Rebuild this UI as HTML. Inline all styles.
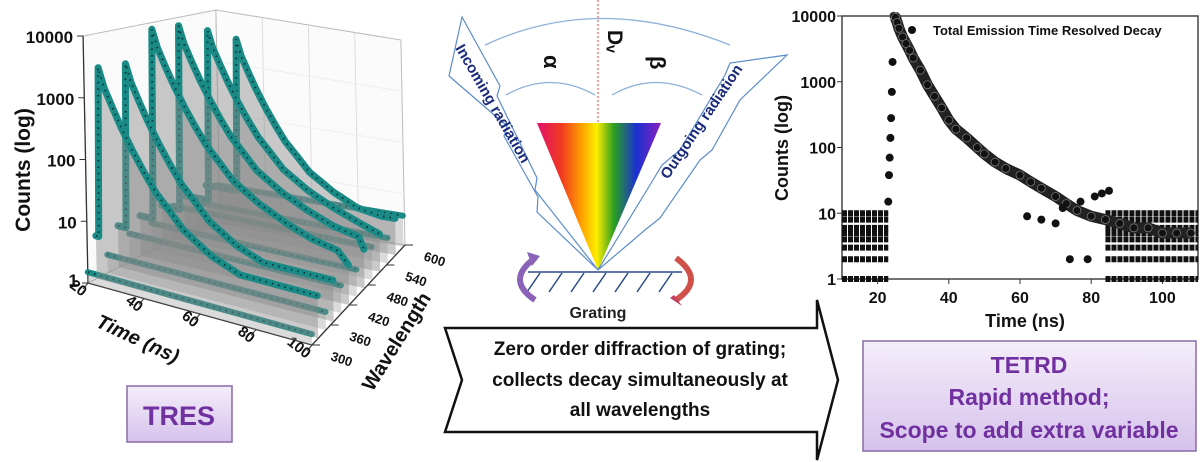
<!DOCTYPE html>
<html><head><meta charset="utf-8"><style>
html,body{margin:0;padding:0;background:#fff}
svg{display:block}
text{font-family:"Liberation Sans",sans-serif}
</style></head><body>
<svg id="fig" width="1200" height="462" viewBox="0 0 1200 462" xmlns="http://www.w3.org/2000/svg">
<defs>
<linearGradient id="rainbow" x1="0" x2="1" y1="0" y2="0">
<stop offset="0" stop-color="#e0106a"/><stop offset="0.2" stop-color="#f03a20"/><stop offset="0.35" stop-color="#ff9a00"/><stop offset="0.48" stop-color="#ffee00"/><stop offset="0.62" stop-color="#2aa020"/><stop offset="0.8" stop-color="#1a30d0"/><stop offset="1" stop-color="#8a20c0"/>
</linearGradient>
<linearGradient id="boxg" x1="0" x2="0" y1="0" y2="1"><stop offset="0" stop-color="#f4eefa"/><stop offset="1" stop-color="#d6c2ec"/></linearGradient>
</defs>
<g id="tres3d"></g>
<g id="diagram">
<line x1="598" y1="0" x2="598" y2="123" stroke="#e04040" stroke-dasharray="2,2"/>
<path d="M485,45 Q598,-8 730,45" fill="none" stroke="#8fb0d8" stroke-width="1.3"/>
<path d="M506,95 Q550,70 595,95" fill="none" stroke="#8fb0d8" stroke-width="1.3"/>
<path d="M612,95 Q655,70 702,95" fill="none" stroke="#8fb0d8" stroke-width="1.3"/>
<text x="608" y="30" font-size="21" font-weight="bold" transform="rotate(90 608 30)" fill="#111">Dᵥ</text>
<text x="544" y="55" font-size="22" font-weight="bold" transform="rotate(90 544 55)" fill="#111">α</text>
<text x="650" y="56" font-size="22" font-weight="bold" transform="rotate(90 650 56)" fill="#111">β</text>
<polygon points="537,123 661,123 598,270" fill="url(#rainbow)"/>
<polygon points="462,17 500,86 497,96 537,178 535,190 598,270 537,212 538,197 504,136 507,126 449,76" fill="none" stroke="#5b8ccc" stroke-width="1.2"/>
<polygon points="787,55 730,63 725,75 680,150 662,165 650,185 598,270 645,230 660,218 700,160 712,150 740,100" fill="none" stroke="#5b8ccc" stroke-width="1.2"/>
<text x="455" y="48" font-size="15" font-weight="bold" fill="#1a2a7a" transform="rotate(60 455 48)">Incoming radiation</text>
<text x="668" y="180" font-size="15" font-weight="bold" fill="#1a2a7a" transform="rotate(-56 668 180)">Outgoing radiation</text>
<line x1="528" y1="272" x2="682" y2="272" stroke="#2a4a8a" stroke-width="1.5"/>
<g stroke="#2a4a8a" stroke-width="1.5">
<line x1="540" y1="273" x2="527" y2="292"/><line x1="562" y1="273" x2="549" y2="292"/><line x1="584" y1="273" x2="571" y2="292"/><line x1="606" y1="273" x2="593" y2="292"/><line x1="628" y1="273" x2="615" y2="292"/><line x1="650" y1="273" x2="637" y2="292"/><line x1="672" y1="273" x2="659" y2="292"/>
</g>
<path d="M535,258 Q505,280 535,300" fill="none" stroke="#8a62b8" stroke-width="6"/>
<polygon points="527,252 540,256 532,266" fill="#8a62b8"/>
<path d="M676,258 Q706,280 676,300" fill="none" stroke="#d0504a" stroke-width="6"/>
<polygon points="670,298 682,306 674,295" fill="#c04060"/>
<text x="598" y="318" font-size="16" font-weight="bold" text-anchor="middle" fill="#222">Grating</text>
</g>
<g>
<polygon points="445,328 817,328 817,300 838,380 817,460 817,432 445,432 462,380" fill="#fff" stroke="#111" stroke-width="2.5"/>
<text x="640" y="355" font-size="19" font-weight="bold" text-anchor="middle" fill="#111">Zero order diffraction of grating;</text>
<text x="640" y="386" font-size="19" font-weight="bold" text-anchor="middle" fill="#111">collects decay simultaneously at</text>
<text x="640" y="416" font-size="19" font-weight="bold" text-anchor="middle" fill="#111">all wavelengths</text>
</g>
<g>
<rect x="127" y="386" width="105" height="56" fill="url(#boxg)" stroke="#8a6aa8" stroke-width="1.5"/>
<text x="179" y="425" font-size="27" font-weight="bold" text-anchor="middle" fill="#7030a0">TRES</text>
</g>
<g>
<rect x="863" y="341" width="333" height="110" fill="url(#boxg)" stroke="#8a6aa8" stroke-width="1.5"/>
<text x="1029" y="373" font-size="23" font-weight="bold" text-anchor="middle" fill="#7030a0">TETRD</text>
<text x="1029" y="405" font-size="23" font-weight="bold" text-anchor="middle" fill="#7030a0">Rapid method;</text>
<text x="1029" y="438" font-size="23" font-weight="bold" text-anchor="middle" fill="#7030a0">Scope to add extra variable</text>
</g>
<g id="tetrd"></g>
</svg>
<script>
// ---- TETRD chart data ----
const decayTimes = [24.5,25,25.5,26,27,28,29,30,32,34,36,38,40,42,45,48,50,53,56,60,63,66,70,73,76,80,84,88,92,96,100,104,108];
const decayCounts = [10000,9500,8000,6500,4800,3800,3000,2300,1500,900,600,400,260,190,140,100,80,60,48,38,30,24,18,14,11,9,8,7,6,6,5,5,5];
const riseTimes = [23,23.2,23.4,23.6,23.8,24,24.2];
const riseCounts = [15,38,70,140,280,700,2000];
const tailScatterTimes = [62,66,70,72,74,77,79,81,83,85];
const tailScatterCounts = [9,8,7,12,2,15,2,18,20,22];
const bgLevels = [1,2,3,4,5,6,8,10];
const tetrdXTicks = [20,40,60,80,100];
const tetrdYTicks = [1,10,100,1000,10000];
// ---- TRES 3D data ----
const tresWavelengths = [570,520,470,420,370,320];
const tresPeaks = [4000,7000,10000,10000,3000,3000];
const tresPeakTime = [34,31,28,26,24,22];
const decayShapeTimes = [0,2,5,8,12,16,20,25,30,40,50,60,70];
const decayShapeFrac = [1,0.5,0.25,0.13,0.06,0.03,0.016,0.009,0.005,0.0025,0.0015,0.001,0.0008];
const tresBaseWavelengths = [595,545,495,445,395,345,300];
const tresBaseCounts = [4,3,4,3,3,2,1.5];
const tresTimeTicks = [20,40,60,80,100];
const tresWlTicks = [300,360,420,480,540,600];
const tresCountTicks = [1,10,100,1000,10000];

const NS='http://www.w3.org/2000/svg';
function mk(tag,attrs,parent){const e=document.createElementNS(NS,tag);for(const k in attrs)e.setAttribute(k,attrs[k]);parent.appendChild(e);return e;}

// TETRD
const tg=document.getElementById('tetrd');
const X0=842,X1=1198,Y0=279,Y1=16;
const xs=t=>X0+(t-10)/(110-10)*(X1-X0);
const ys=c=>Y0-Math.log10(c)/4*(Y0-Y1);
let fr=mk('rect',{x:X0,y:Y1,width:X1-X0,height:Y0-Y1,fill:'#fff',stroke:'#444','stroke-width':1.5},tg);


tetrdXTicks.forEach(v=>{
  mk('line',{x1:xs(v),y1:Y0,x2:xs(v),y2:Y0+5,stroke:'#333'},tg);
  const t=mk('text',{x:xs(v),y:Y0+24,'font-size':16,'font-weight':'bold','text-anchor':'middle',fill:'#111'},tg);t.textContent=v;
  
  
});
tetrdYTicks.forEach(v=>{
  mk('line',{x1:X0-5,y1:ys(v),x2:X0,y2:ys(v),stroke:'#333'},tg);
  const t=mk('text',{x:X0-6,y:ys(v)+6,'font-size':16,'font-weight':'bold','text-anchor':'end',fill:'#111'},tg);t.textContent=v;
  
  
});
let xt=mk('text',{x:1025,y:327,'font-size':18,'font-weight':'bold','text-anchor':'middle',fill:'#111'},tg);xt.textContent='Time (ns)';


let yt=mk('text',{x:788,y:148,'font-size':18,'font-weight':'bold','text-anchor':'middle',fill:'#111',transform:'rotate(-90 788 148)'},tg);yt.textContent='Counts (log)';


bgLevels.forEach(l=>{
  [[10,23],[84,110]].forEach(([a,b])=>{
    const r=mk('line',{x1:xs(a),y1:ys(l),x2:xs(b),y2:ys(l),stroke:'#111','stroke-width':6,'stroke-dasharray':'5,1'},tg);
    
    
  });
});
let pts=decayTimes.map((t,i)=>xs(t)+','+ys(decayCounts[i])).join(' ');
let band=mk('polyline',{points:pts,fill:'none',stroke:'#222','stroke-width':11,'stroke-linejoin':'round'},tg);


riseTimes.forEach((t,i)=>{const c=mk('circle',{cx:xs(t),cy:ys(riseCounts[i]),r:4,fill:'#111'},tg);
  
  });
decayTimes.forEach((t,i)=>{const c=mk('circle',{cx:xs(t),cy:ys(decayCounts[i]),r:4,fill:'#111',stroke:'#777','stroke-width':0.8},tg);
  
  });
tailScatterTimes.forEach((t,i)=>{const c=mk('circle',{cx:xs(t),cy:ys(tailScatterCounts[i]),r:4,fill:'#111'},tg);
  
  });
let lc=mk('circle',{cx:912,cy:30,r:4,fill:'#111'},tg);


let lt=mk('text',{x:933,y:35,'font-size':13,'font-weight':'bold',fill:'#111'},tg);lt.textContent='Total Emission Time Resolved Decay';



// TRES 3D
const g3=document.getElementById('tres3d');
const C00=[88,283],C10=[312,345],C11=[405,245],C01=[220,215];
const ZF=247,ZB=205;
function P(t,w,c){const a=(t-20)/80,b=(w-300)/300;
  const fx=C00[0]+a*(C10[0]-C00[0]),fy=C00[1]+a*(C10[1]-C00[1]);
  const bx=C01[0]+a*(C11[0]-C01[0]),by=C01[1]+a*(C11[1]-C01[1]);
  const x=fx+b*(bx-fx),y=fy+b*(by-fy);
  const z=Math.log10(Math.max(c,1))/4*(ZF+b*(ZB-ZF));
  return [x-z*0.02,y-z];}
const pp=p=>p[0].toFixed(1)+','+p[1].toFixed(1);
let bw1=mk('polygon',{points:[P(20,300,1),P(20,600,1),P(20,600,10000),P(20,300,10000)].map(pp).join(' '),fill:'#fafafa',stroke:'#bbb'},g3);


let bw2=mk('polygon',{points:[P(20,600,1),P(100,600,1),P(100,600,10000),P(20,600,10000)].map(pp).join(' '),fill:'#fbfbfb',stroke:'#bbb'},g3);


[40,60,80].forEach(t=>{const a=P(t,600,1),b=P(t,600,10000);mk('line',{x1:a[0],y1:a[1],x2:b[0],y2:b[1],stroke:'#ddd'},g3);});
[10,100,1000].forEach(c=>{const a=P(20,600,c),b=P(100,600,c);mk('line',{x1:a[0],y1:a[1],x2:b[0],y2:b[1],stroke:'#eee'},g3);});
function ln(p,q){mk('line',{x1:p[0],y1:p[1],x2:q[0],y2:q[1],stroke:'#333','stroke-width':1.3},g3);}
ln(P(20,300,1),P(20,300,10000));ln(P(20,300,1),P(100,300,1));ln(P(100,300,1),P(100,600,1));
tresCountTicks.forEach(v=>{const p=P(20,300,v);mk('line',{x1:p[0]-6,y1:p[1],x2:p[0],y2:p[1],stroke:'#333'},g3);
  const t=mk('text',{x:p[0]-10,y:p[1]+(v===1?3:7),'font-size':17,'font-weight':'bold','text-anchor':'end',fill:'#111'},g3);t.textContent=v;
  
  });
tresTimeTicks.forEach(v=>{const p=P(v,300,1);mk('line',{x1:p[0],y1:p[1],x2:p[0]-5,y2:p[1]+6,stroke:'#333'},g3);
  const t=mk('text',{x:p[0]-6,y:p[1]+14,'font-size':15,'font-weight':'bold','text-anchor':'end',fill:'#111',transform:`rotate(38 ${p[0]-6} ${p[1]+14})`},g3);t.textContent=v;
  
  });
tresWlTicks.forEach(v=>{const p=P(100,v,1);mk('line',{x1:p[0],y1:p[1],x2:p[0]+8,y2:p[1],stroke:'#333'},g3);
  const t=mk('text',{x:p[0]+18,y:p[1]+15,'font-size':13,'font-weight':'bold',fill:'#111',transform:`rotate(18 ${p[0]+18} ${p[1]+15})`},g3);t.textContent=v;
  
  });
let ct=mk('text',{x:30,y:170,'font-size':21,'font-weight':'bold','text-anchor':'middle',fill:'#111',transform:'rotate(-90 30 170)'},g3);ct.textContent='Counts (log)';


let tt=mk('text',{x:135,y:345,'font-size':20,'font-weight':'bold','font-style':'italic','text-anchor':'middle',fill:'#111',transform:'rotate(25 135 345)'},g3);tt.textContent='Time (ns)';


let wt=mk('text',{x:402,y:345,'font-size':20,'font-weight':'bold','text-anchor':'middle',fill:'#111',transform:'rotate(-58 402 345)'},g3);wt.textContent='Wavelength';


// flat baseline slices (low-signal wavelengths)
tresBaseWavelengths.forEach((w,i)=>{
  const a=P(20,w,tresBaseCounts[i]),b=P(100,w,tresBaseCounts[i]);
  const f=mk('polygon',{points:[a,b,P(100,w,1),P(20,w,1)].map(pp).join(' '),fill:'#999','fill-opacity':0.35},g3);
  
  
  const l=mk('line',{x1:a[0],y1:a[1],x2:b[0],y2:b[1],stroke:'#1a8a86','stroke-width':6,'stroke-linecap':'round'},g3);
  
  
  const d=mk('line',{x1:a[0],y1:a[1],x2:b[0],y2:b[1],stroke:'#0a3a3a','stroke-width':2,'stroke-dasharray':'1.5,5'},g3);
  
  
});
tresWavelengths.forEach((w,i)=>{
  const pk=tresPeaks[i],tp=tresPeakTime[i];
  const line=[[20,w,5],[tp-1,w,5],[tp,w,pk]];
  decayShapeTimes.forEach((dt,j)=>{const t=tp+dt;if(t<=100&&j>0)line.push([t,w,Math.max(5,pk*decayShapeFrac[j])]);});
  line.push([100,w,5]);
  const proj=line.map(q=>P(q[0],q[1],q[2]));
  const fillPts=proj.concat([P(100,w,1),P(20,w,1)]);
  const f=mk('polygon',{points:fillPts.map(pp).join(' '),fill:'#8a8a8a','fill-opacity':0.45,stroke:'none'},g3);
  
  
  const pl=mk('polyline',{points:proj.map(pp).join(' '),fill:'none',stroke:'#1a8a86','stroke-width':7,'stroke-linejoin':'round','stroke-linecap':'round'},g3);
  
  
  const dl=mk('polyline',{points:proj.map(pp).join(' '),fill:'none',stroke:'#0a3a3a','stroke-width':2,'stroke-dasharray':'1.5,5'},g3);
  
  
});
</script>
</body></html>
